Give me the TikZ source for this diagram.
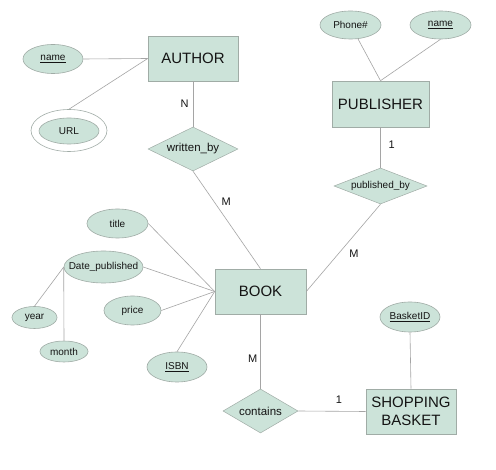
\documentclass[tikz,border=0pt]{standalone}
\usepackage{fontspec}
\setmainfont{Liberation Sans}
\usetikzlibrary{shapes.geometric}
\definecolor{erfill}{RGB}{204,227,217}
\definecolor{erborder}{RGB}{160,172,166}
\definecolor{erline}{RGB}{165,165,165}
\definecolor{ertext}{RGB}{20,20,20}
\newcommand\zt[1]{\makebox[0pt]{#1}}
\begin{document}
\begin{tikzpicture}[x=1pt,y=-1pt,
  entity/.style={rectangle,draw=erborder,fill=erfill,line width=0.6pt,inner sep=0pt,
    font=\fontsize{15}{18}\selectfont,align=center,text=ertext},
  attr/.style={ellipse,draw=erborder,fill=erfill,line width=0.6pt,inner sep=0pt,
    font=\fontsize{10}{12}\selectfont,text=ertext},
  rel/.style={diamond,draw=erborder,fill=erfill,line width=0.5pt,inner sep=0pt,aspect=2.5,
    font=\fontsize{11.5}{13}\selectfont,text=ertext},
  conn/.style={draw=erline,line width=0.6pt},
  card/.style={font=\fontsize{11}{13}\selectfont,text=ertext,inner sep=0pt}]
\useasboundingbox (0,0) rectangle (496,470);
\fill[white] (0,0) rectangle (496,470);

% AUTHOR
\node[entity,minimum width=90pt,minimum height=45pt] (author) at (193,58.5) {AUTHOR};
\node[attr,minimum width=60pt,minimum height=29pt] (aname) at (53,59) {\zt{\underline{name}}};
\node[ellipse,draw=erborder,line width=0.6pt,minimum width=76pt,minimum height=42pt,inner sep=0pt] (urlo) at (69,130.5) {};
\node[attr,minimum width=60pt,minimum height=26pt] (url) at (69,131) {\zt{URL}};
\node[rel,minimum width=90pt,minimum height=44pt] (wb) at (193,149) {written\_by};

% PUBLISHER
\node[entity,minimum width=97pt,minimum height=46pt] (pub) at (380.5,104) {PUBLISHER};
\node[attr,minimum width=61pt,minimum height=28pt] (phone) at (350.5,25) {\zt{Phone\#}};
\node[attr,minimum width=61pt,minimum height=28pt] (pname) at (440.5,25) {\zt{\underline{name}}};
\node[rel,minimum width=93pt,minimum height=36pt,font=\fontsize{10}{12}\selectfont] (pb) at (380.5,186) {published\_by};

% BOOK
\node[entity,minimum width=91pt,minimum height=45pt] (book) at (260.5,291.5) {BOOK};
\node[attr,minimum width=61pt,minimum height=29pt] (title) at (117.5,223.5) {\zt{title}};
\node[attr,minimum width=79pt,minimum height=32pt] (date) at (103.5,267) {\zt{Date\_published}};
\node[attr,minimum width=57pt,minimum height=29pt] (price) at (132.5,310.5) {\zt{price}};
\node[attr,minimum width=45pt,minimum height=22pt] (year) at (34.5,317.5) {\zt{year}};
\node[attr,minimum width=48pt,minimum height=21pt] (month) at (64,351.5) {\zt{month}};
\node[attr,minimum width=60pt,minimum height=30pt] (isbn) at (177,367) {\zt{\underline{ISBN}}};

% SHOPPING BASKET
\node[rel,minimum width=75pt,minimum height=44pt] (contains) at (260.5,411) {contains};
\node[entity,minimum width=90pt,minimum height=45pt] (sb) at (411,411.5) {SHOPPING\\BASKET};
\node[attr,minimum width=60pt,minimum height=30pt] (basket) at (410,317) {\zt{\underline{BasketID}}};

% connectors
\draw[conn] (aname.east) -- (author.west);
\draw[conn] (urlo.north) -- (author.west);
\draw[conn] (author.south) -- (wb.north);
\draw[conn] (wb.south) -- (book.north);
\draw[conn] (phone) -- (pub.north);
\draw[conn] (pname.south) -- (pub.north);
\draw[conn] (pub.south) -- (pb.north);
\draw[conn] (pb.south) -- (book.east);
\draw[conn] (title.east) -- (book.west);
\draw[conn] (date.east) -- (book.west);
\draw[conn] (price.east) -- (book.west);
\draw[conn] (isbn.north) -- (book.west);
\draw[conn] (date.west) -- (year.north);
\draw[conn] (date.west) -- (month.north);
\draw[conn] (book.south) -- (contains.north);
\draw[conn] (contains.east) -- (sb.west);
\draw[conn] (basket.south) -- (sb.north);

% cardinalities
\node[card] (cN) at (184.7,103.5) {N};
\node[card] (cM1) at (226.3,201.3) {M};
\node[card] (c1a) at (391.7,145) {1};
\node[card] (cM2) at (354,254) {M};
\node[card] (cM3) at (252.8,358.8) {M};
\node[card] (c1b) at (339,400) {1};
\end{tikzpicture}
\end{document}
